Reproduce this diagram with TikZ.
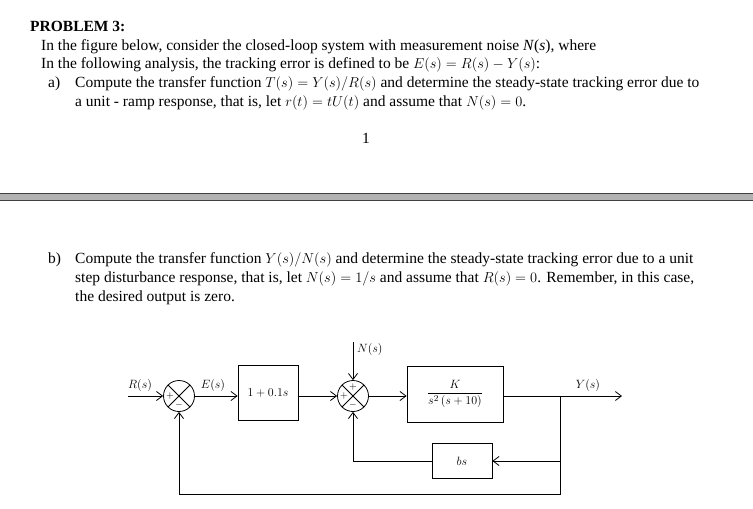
\documentclass[tikz,border=0pt]{standalone}
\usepackage{fontspec}
\setmainfont{Liberation Serif}
\usetikzlibrary{arrows.meta}
\begin{document}
\begin{tikzpicture}[x=1pt,y=-1pt,
  txt/.style={anchor=base west,inner sep=0pt,font=\fontsize{15.5}{18}\selectfont},
  blk/.style={draw,thick,minimum height=0pt,inner sep=0pt,font=\fontsize{13}{15}\selectfont},
  sumj/.style={draw,thick,circle,minimum size=31pt,inner sep=0pt},
  lab/.style={inner sep=0pt,font=\fontsize{13}{15}\selectfont},
  sgn/.style={inner sep=0pt,font=\fontsize{10}{12}\selectfont},
  sig/.style={thick,-{Straight Barb[length=6pt,width=9pt]}}]
\useasboundingbox (0,0) rectangle (753,509);
\fill[gray!60] (0,193) rectangle (753,200);
\draw[line width=1pt,black!75] (0,193)--(753,193) (0,200)--(753,200);
\node[txt,font=\bfseries\fontsize{15.5}{18}\selectfont] (t0) at (30,31) {PROBLEM 3:};
\node[txt] (t1) at (41,50) {In the figure below, consider the closed-loop system with measurement noise \textit{N}(\textit{s}), where};
\node[txt] (t2) at (41,68) {In the following analysis, the tracking error is defined to be $E(s)=R(s)-Y(s)$:};
\node[txt] (t3) at (48,87) {a)};
\node[txt] (t4) at (75,87) {Compute the transfer function $T(s)=Y(s)/R(s)$ and determine the steady-state tracking error due to};
\node[txt] (t5) at (75,106) {a unit - ramp response, that is, let $r(t)=tU(t)$ and assume that $N(s)=0$.};
\node[txt] (t6) at (362,143) {1};
\node[txt] (b1) at (48,263) {b)};
\node[txt] (b2) at (75,263) {Compute the transfer function $Y(s)/N(s)$ and determine the steady-state tracking error due to a unit};
\node[txt] (b3) at (75,282) {step disturbance response, that is, let $N(s)=1/s$ and assume that $R(s)=0$. Remember, in this case,};
\node[txt] (b4) at (75,301) {the desired output is zero.};
% diagram
\node[sumj] (s1) at (179,396) {};
\draw[thick] (s1.north west)--(s1.south east) (s1.north east)--(s1.south west);
\node[sgn] at (170,396) {$+$};
\node[sgn] at (179,405) {$-$};
\node[sumj] (s2) at (353,396) {};
\draw[thick] (s2.north west)--(s2.south east) (s2.north east)--(s2.south west);
\node[sgn] at (353,387) {$+$};
\node[sgn] at (344,396) {$+$};
\node[sgn] at (353,405) {$-$};
\node[blk,minimum width=60pt,minimum height=55pt] (g1) at (268,393) {$1+0.1s$};
\node[blk,minimum width=96pt,minimum height=56pt] (g2) at (455,394) {$\displaystyle\frac{K}{s^2\,(s+10)}$};
\node[blk,minimum width=60pt,minimum height=35pt] (h) at (462,461) {$bs$};
\coordinate (rin) at (128,396);
\coordinate (nin) at (353,342);
\coordinate (yout) at (622,396);
\coordinate (br) at (560,396);
\node[lab,anchor=base] (rl) at (140,388) {$R(s)$};
\node[lab,anchor=base] (el) at (213,388) {$E(s)$};
\node[lab,anchor=base west] (nl) at (357,352) {$N(s)$};
\node[lab,anchor=base] (yl) at (588,388) {$Y(s)$};
\draw[sig] (rin)--(s1);
\draw[sig] (s1)--(g1.west|-s1);
\draw[sig] (g1.east|-s2)--(s2);
\draw[sig] (nin)--(s2);
\draw[sig] (s2)--(g2.west|-s2);
\draw[sig] (g2.east|-s2)--(yout);
\draw[sig] (br)|-(h.east);
\draw[sig] (h.west)-|(s2.south);
\draw[sig] (br)|-(179,494)--(s1.south);
\end{tikzpicture}
\end{document}
